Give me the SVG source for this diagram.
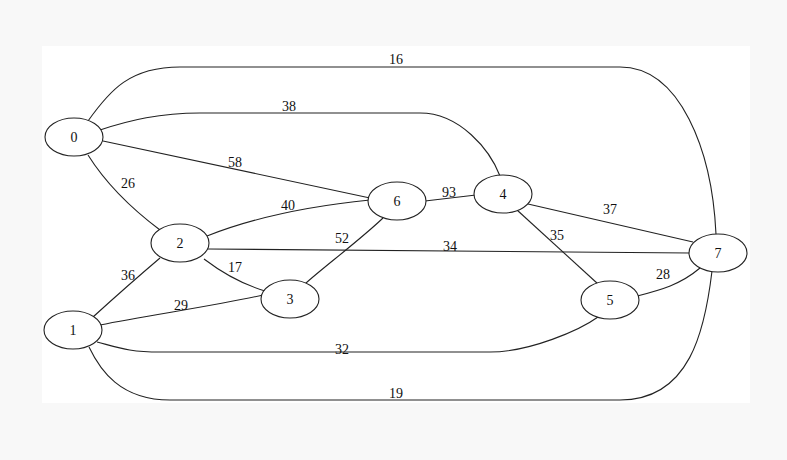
<svg xmlns="http://www.w3.org/2000/svg" width="787" height="460" viewBox="0 0 787 460">
<style>
.n ellipse{fill:#fff;stroke:#222;stroke-width:1.1}
text{font-family:"Liberation Serif",serif;font-size:14px;fill:#111;text-anchor:middle}
.e path{fill:none;stroke:#222;stroke-width:1.1}
</style>
<rect width="787" height="460" fill="#f8f8f8"/>
<rect x="42" y="46" width="708" height="357" fill="#fff"/>
<g class="e" id="edges">
<path d="M88,121 C110,90 130,67 180,67 L620,67 C680,67 712,150 716,234"/>
<path d="M100,130 C130,120 160,113 200,113 L420,113 C460,113 490,150 500,176"/>
<path d="M103,141 L370,198"/>
<path d="M88,155 C110,190 140,215 160,230"/>
<path d="M207,236 C260,215 320,205 370,200"/>
<path d="M208,249 L690,253"/>
<path d="M204,259 C225,275 245,285 265,291"/>
<path d="M383,218 C360,240 320,270 305,284"/>
<path d="M93,317 C115,297 140,275 160,258"/>
<path d="M100,325 C150,315 220,305 263,295"/>
<path d="M97,342 C120,348 130,352 160,352 L490,352 C530,352 580,330 598,317"/>
<path d="M89,347 C100,370 120,400 170,400 L620,400 C690,400 705,330 712,271"/>
<path d="M425,201 L476,195"/>
<path d="M528,204 L693,242"/>
<path d="M517,210 L598,284"/>
<path d="M637,296 C660,290 680,285 700,268"/>
</g>
<g class="n" id="n0"><ellipse cx="74" cy="137" rx="29" ry="19"/><text x="74" y="142">0</text></g>
<g class="n" id="n1"><ellipse cx="73" cy="330" rx="29" ry="19"/><text x="73" y="335">1</text></g>
<g class="n" id="n2"><ellipse cx="180" cy="243" rx="29" ry="19"/><text x="180" y="248">2</text></g>
<g class="n" id="n3"><ellipse cx="290" cy="299" rx="29" ry="19"/><text x="290" y="304">3</text></g>
<g class="n" id="n6"><ellipse cx="397" cy="201" rx="29" ry="19"/><text x="397" y="206">6</text></g>
<g class="n" id="n4"><ellipse cx="503" cy="194" rx="29" ry="19"/><text x="503" y="199">4</text></g>
<g class="n" id="n5"><ellipse cx="610" cy="300" rx="29" ry="19"/><text x="610" y="305">5</text></g>
<g class="n" id="n7"><ellipse cx="718" cy="253" rx="29" ry="19"/><text x="718" y="258">7</text></g>
<g id="labels">
<text x="396" y="64">16</text><text x="289" y="111">38</text><text x="235" y="167">58</text>
<text x="128" y="188">26</text><text x="288" y="210">40</text><text x="449" y="197">93</text>
<text x="610" y="214">37</text><text x="342" y="243">52</text><text x="450" y="251">34</text>
<text x="557" y="240">35</text><text x="235" y="272">17</text><text x="128" y="280">36</text>
<text x="181" y="310">29</text><text x="663" y="279">28</text><text x="342" y="354">32</text>
<text x="396" y="398">19</text>
</g>
</svg>
